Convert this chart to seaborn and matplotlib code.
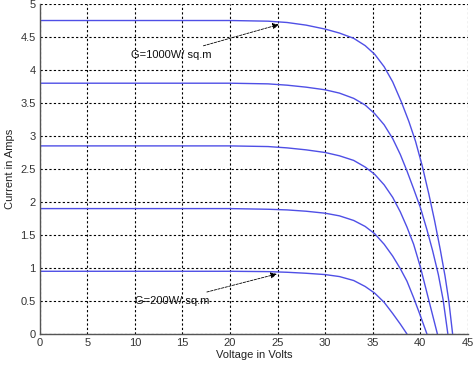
import pandas as pd
import matplotlib
matplotlib.use("Agg")
import matplotlib.pyplot as plt
import seaborn as sns

# I-V curves, one per irradiance level (W/sq.m)
v_1000 = [0, 20, 24, 26, 28, 30, 31.5, 33, 34.2, 35.2, 36.2, 37.1, 38.0, 38.8, 39.5,
          40.2, 40.9, 41.5, 42.1, 42.6, 43.0, 43.4]
i_1000 = [4.75, 4.75, 4.74, 4.72, 4.68, 4.62, 4.56, 4.48, 4.37, 4.24, 4.05, 3.82, 3.52,
          3.22, 2.92, 2.55, 2.12, 1.72, 1.28, 0.88, 0.50, 0.0]

v_800 = [0, 20, 24, 26, 28, 30, 31.5, 33, 34.2, 35.2, 36.2, 37.1, 37.9, 38.6, 39.3,
         40.0, 40.7, 41.3, 41.9, 42.4, 42.9]
i_800 = [3.80, 3.80, 3.79, 3.77, 3.74, 3.70, 3.65, 3.57, 3.47, 3.34, 3.17, 2.96, 2.72,
         2.47, 2.20, 1.92, 1.58, 1.26, 0.90, 0.52, 0.0]

v_600 = [0, 20, 24, 26, 28, 30, 31.5, 33, 34.2, 35.2, 36.2, 37.1, 37.9, 38.6, 39.3,
         40.0, 40.6, 41.2, 41.8]
i_600 = [2.85, 2.85, 2.84, 2.82, 2.79, 2.75, 2.70, 2.63, 2.53, 2.42, 2.26, 2.07, 1.85,
         1.62, 1.36, 1.02, 0.68, 0.34, 0.0]

v_400 = [0, 20, 24, 26, 28, 30, 31.5, 33, 34.2, 35.2, 36.2, 37.1, 37.9, 38.6, 39.3,
         40.0, 40.7]
i_400 = [1.90, 1.90, 1.89, 1.88, 1.86, 1.83, 1.79, 1.72, 1.63, 1.52, 1.36, 1.18, 0.99,
         0.80, 0.55, 0.28, 0.0]

v_200 = [0, 20, 24, 26, 28, 30, 31.5, 33, 34.2, 35.2, 36.2, 37.1, 37.9, 38.6]
i_200 = [0.95, 0.95, 0.945, 0.935, 0.92, 0.90, 0.87, 0.81, 0.72, 0.62, 0.48, 0.31,
         0.15, 0.0]

x_ticks = [0, 5, 10, 15, 20, 25, 30, 35, 40, 45]
y_ticks = [0, 0.5, 1, 1.5, 2, 2.5, 3, 3.5, 4, 4.5, 5]
y_labels = ["0", "0.5", "1", "1.5", "2", "2.5", "3", "3.5", "4", "4.5", "5"]

# build a long table for seaborn
curves = {1000: (v_1000, i_1000), 800: (v_800, i_800), 600: (v_600, i_600),
          400: (v_400, i_400), 200: (v_200, i_200)}
rows = []
for g, (vs, cs) in curves.items():
    for v, c in zip(vs, cs):
        rows.append({"G": g, "Voltage": v, "Current": c})
df = pd.DataFrame(rows)

sns.set_style("white")
plt.rcParams["font.family"] = ["Liberation Sans", "DejaVu Sans"]

fig = plt.figure(figsize=(4.74, 3.65), dpi=100)
ax = fig.add_axes([0.084, 0.085, 0.903, 0.904])

sns.lineplot(data=df, x="Voltage", y="Current", hue="G", units="G", estimator=None,
             palette=["#4f4fe6"] * 5, linewidth=1.0, legend=False, sort=False, ax=ax)

ax.set_xlim(0, 45)
ax.set_ylim(0, 5)
ax.set_xticks(x_ticks)
ax.set_yticks(y_ticks)
ax.set_xticklabels([str(t) for t in x_ticks])
ax.set_yticklabels(y_labels)
ax.grid(True, color="black", linestyle=(0, (2, 2)), linewidth=0.8)
ax.tick_params(direction="in", length=3, labelsize=8, colors="#333333", pad=3)
for side in ["top", "right"]:
    ax.spines[side].set_visible(False)
for side in ["left", "bottom"]:
    ax.spines[side].set_color("#555555")
    ax.spines[side].set_linewidth(1.0)

ax.set_xlabel("Voltage in Volts", fontsize=8, color="#222222", labelpad=1)
ax.set_ylabel("Current in Amps", fontsize=8, color="#222222", labelpad=4)

arrow = dict(arrowstyle="-|>", color="black", linewidth=0.6, mutation_scale=9,
             linestyle=(0, (3, 1.5)))
ax.annotate("G=1000W/ sq.m", xy=(25.4, 4.70), xytext=(9.6, 4.23), fontsize=8,
            va="center", ha="left", arrowprops=arrow, color="#111111")
ax.annotate("G=200W/ sq.m", xy=(25.2, 0.92), xytext=(10.0, 0.50), fontsize=8,
            va="center", ha="left", arrowprops=arrow, color="#111111")

fig.savefig("out.png", dpi=100)
